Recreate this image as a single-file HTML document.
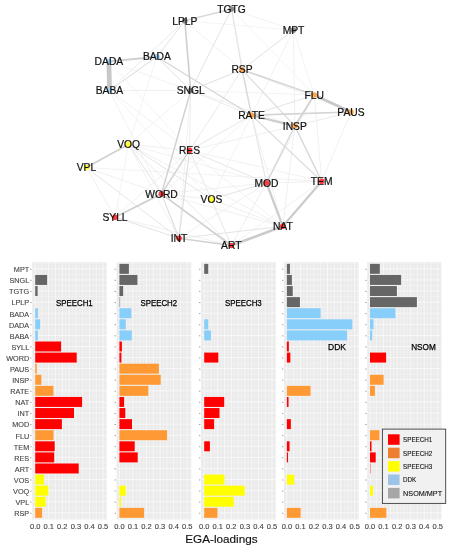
<!DOCTYPE html>
<html lang="en"><head><meta charset="utf-8"><title>EGA network and loadings</title>
<style>html,body{margin:0;padding:0;background:#fff}svg{display:block}</style></head>
<body>
<svg width="451" height="550" viewBox="0 0 451 550" font-family="Liberation Sans, Arial, Helvetica, sans-serif">
<rect width="451" height="550" fill="#ffffff"/>
<g stroke-linecap="round" fill="none">
<line x1="189.5" y1="150.4" x2="282.8" y2="226.3" stroke="#eeeeee" stroke-width="0.8"/>
<line x1="189.5" y1="150.4" x2="231.3" y2="245.5" stroke="#ececec" stroke-width="0.8"/>
<line x1="179" y1="238.3" x2="266.5" y2="183" stroke="#ececec" stroke-width="0.8"/>
<line x1="161.5" y1="193.9" x2="282.8" y2="226.3" stroke="#ececec" stroke-width="0.8"/>
<line x1="321.7" y1="181.3" x2="231.3" y2="245.5" stroke="#eeeeee" stroke-width="0.8"/>
<line x1="242" y1="69.7" x2="161.5" y2="193.9" stroke="#efefef" stroke-width="0.8"/>
<line x1="242" y1="69.7" x2="266.5" y2="183" stroke="#efefef" stroke-width="0.8"/>
<line x1="251.5" y1="115.2" x2="211.4" y2="199.2" stroke="#f0f0f0" stroke-width="0.8"/>
<line x1="251.5" y1="115.2" x2="161.5" y2="193.9" stroke="#eeeeee" stroke-width="0.8"/>
<line x1="251.5" y1="115.2" x2="282.8" y2="226.3" stroke="#eeeeee" stroke-width="0.8"/>
<line x1="314.3" y1="95" x2="266.5" y2="183" stroke="#eeeeee" stroke-width="0.8"/>
<line x1="314.3" y1="95" x2="321.7" y2="181.3" stroke="#ececec" stroke-width="0.8"/>
<line x1="351" y1="112" x2="321.7" y2="181.3" stroke="#eeeeee" stroke-width="0.8"/>
<line x1="294.8" y1="126" x2="351" y2="112" stroke="#e8e8e8" stroke-width="0.9"/>
<line x1="294.8" y1="126" x2="282.8" y2="226.3" stroke="#ececec" stroke-width="0.8"/>
<line x1="190.7" y1="90.5" x2="179" y2="238.3" stroke="#eeeeee" stroke-width="0.8"/>
<line x1="190.7" y1="90.5" x2="314.3" y2="95" stroke="#f0f0f0" stroke-width="0.8"/>
<line x1="190.7" y1="90.5" x2="294.8" y2="126" stroke="#eeeeee" stroke-width="0.8"/>
<line x1="293.5" y1="30.1" x2="251.5" y2="115.2" stroke="#eeeeee" stroke-width="0.8"/>
<line x1="293.5" y1="30.1" x2="314.3" y2="95" stroke="#f0f0f0" stroke-width="0.8"/>
<line x1="231.6" y1="9" x2="314.3" y2="95" stroke="#f1f1f1" stroke-width="0.8"/>
<line x1="231.6" y1="9" x2="251.5" y2="115.2" stroke="#eeeeee" stroke-width="0.8"/>
<line x1="184.8" y1="20.8" x2="293.5" y2="30.1" stroke="#f1f1f1" stroke-width="0.8"/>
<line x1="184.8" y1="20.8" x2="242" y2="69.7" stroke="#eeeeee" stroke-width="0.8"/>
<line x1="189.5" y1="150.4" x2="321.7" y2="181.3" stroke="#efefef" stroke-width="0.8"/>
<line x1="156.9" y1="56.7" x2="128.6" y2="144.2" stroke="#f0f0f0" stroke-width="0.8"/>
<line x1="108.9" y1="61.5" x2="189.5" y2="150.4" stroke="#f1f1f1" stroke-width="0.8"/>
<line x1="109.5" y1="90.5" x2="211.4" y2="199.2" stroke="#f1f1f1" stroke-width="0.8"/>
<line x1="109.5" y1="90.5" x2="189.5" y2="150.4" stroke="#efefef" stroke-width="0.8"/>
<line x1="184.8" y1="20.8" x2="109.5" y2="90.5" stroke="#e9e9e9" stroke-width="0.9"/>
<line x1="115" y1="217.2" x2="128.6" y2="144.2" stroke="#f0f0f0" stroke-width="0.8"/>
<line x1="115" y1="217.2" x2="189.5" y2="150.4" stroke="#ececec" stroke-width="0.8"/>
<line x1="128.6" y1="144.2" x2="266.5" y2="183" stroke="#efefef" stroke-width="0.8"/>
<line x1="128.6" y1="144.2" x2="282.8" y2="226.3" stroke="#eeeeee" stroke-width="0.8"/>
<line x1="128.6" y1="144.2" x2="179" y2="238.3" stroke="#eeeeee" stroke-width="0.8"/>
<line x1="128.6" y1="144.2" x2="231.3" y2="245.5" stroke="#e9e9e9" stroke-width="0.9"/>
<line x1="86.4" y1="167.5" x2="321.7" y2="181.3" stroke="#efefef" stroke-width="0.8"/>
<line x1="86.4" y1="167.5" x2="179" y2="238.3" stroke="#e6e6e6" stroke-width="1.0"/>
<line x1="211.4" y1="199.2" x2="161.5" y2="193.9" stroke="#ececec" stroke-width="0.8"/>
<line x1="211.4" y1="199.2" x2="282.8" y2="226.3" stroke="#ececec" stroke-width="0.8"/>
<line x1="211.4" y1="199.2" x2="189.5" y2="150.4" stroke="#ececec" stroke-width="0.8"/>
<line x1="128.6" y1="144.2" x2="190.7" y2="90.5" stroke="#efefef" stroke-width="0.8"/>
<line x1="242" y1="69.7" x2="351" y2="112" stroke="#ececec" stroke-width="0.8"/>
<line x1="231.6" y1="9" x2="293.5" y2="30.1" stroke="#efefef" stroke-width="0.8"/>
<line x1="108.9" y1="61.5" x2="190.7" y2="90.5" stroke="#efefef" stroke-width="0.8"/>
<line x1="109.5" y1="90.5" x2="161.5" y2="193.9" stroke="#efefef" stroke-width="0.8"/>
<line x1="242" y1="69.7" x2="189.5" y2="150.4" stroke="#ececec" stroke-width="0.8"/>
<line x1="115" y1="217.2" x2="231.3" y2="245.5" stroke="#ececec" stroke-width="0.8"/>
<line x1="266.5" y1="183" x2="231.3" y2="245.5" stroke="#e8e8e8" stroke-width="0.8"/>
<line x1="266.5" y1="183" x2="321.7" y2="181.3" stroke="#ececec" stroke-width="0.8"/>
<line x1="190.7" y1="90.5" x2="189.5" y2="150.4" stroke="#e8e8e8" stroke-width="0.8"/>
<line x1="190.7" y1="90.5" x2="251.5" y2="115.2" stroke="#e8e8e8" stroke-width="0.8"/>
<line x1="189.5" y1="150.4" x2="294.8" y2="126" stroke="#ececec" stroke-width="0.8"/>
<line x1="161.5" y1="193.9" x2="266.5" y2="183" stroke="#ececec" stroke-width="0.8"/>
<line x1="179" y1="238.3" x2="282.8" y2="226.3" stroke="#e4e4e4" stroke-width="1.0"/>
<line x1="189.5" y1="150.4" x2="266.5" y2="183" stroke="#e6e6e6" stroke-width="1.0"/>
<line x1="211.4" y1="199.2" x2="231.3" y2="245.5" stroke="#e8e8e8" stroke-width="0.8"/>
<line x1="211.4" y1="199.2" x2="266.5" y2="183" stroke="#e4e4e4" stroke-width="1.0"/>
<line x1="86.4" y1="167.5" x2="161.5" y2="193.9" stroke="#ececec" stroke-width="0.8"/>
<line x1="86.4" y1="167.5" x2="115" y2="217.2" stroke="#ececec" stroke-width="0.8"/>
<line x1="128.6" y1="144.2" x2="211.4" y2="199.2" stroke="#e6e6e6" stroke-width="1.0"/>
<line x1="128.6" y1="144.2" x2="189.5" y2="150.4" stroke="#ececec" stroke-width="0.8"/>
<line x1="128.6" y1="144.2" x2="161.5" y2="193.9" stroke="#e4e4e4" stroke-width="1.0"/>
<line x1="156.9" y1="56.7" x2="190.7" y2="90.5" stroke="#e2e2e2" stroke-width="1.0"/>
<line x1="156.9" y1="56.7" x2="184.8" y2="20.8" stroke="#e4e4e4" stroke-width="1.0"/>
<line x1="109.5" y1="90.5" x2="190.7" y2="90.5" stroke="#ececec" stroke-width="0.8"/>
<line x1="293.5" y1="30.1" x2="294.8" y2="126" stroke="#ececec" stroke-width="0.8"/>
<line x1="293.5" y1="30.1" x2="242" y2="69.7" stroke="#e2e2e2" stroke-width="1.0"/>
<line x1="190.7" y1="90.5" x2="242" y2="69.7" stroke="#e2e2e2" stroke-width="1.0"/>
<line x1="231.6" y1="9" x2="190.7" y2="90.5" stroke="#e4e4e4" stroke-width="1.0"/>
<line x1="231.6" y1="9" x2="242" y2="69.7" stroke="#e2e2e2" stroke-width="1.0"/>
<line x1="115" y1="217.2" x2="179" y2="238.3" stroke="#e4e4e4" stroke-width="1.0"/>
<line x1="161.5" y1="193.9" x2="179" y2="238.3" stroke="#dedede" stroke-width="1.2"/>
<line x1="189.5" y1="150.4" x2="179" y2="238.3" stroke="#e0e0e0" stroke-width="1.2"/>
<line x1="189.5" y1="150.4" x2="251.5" y2="115.2" stroke="#e6e6e6" stroke-width="1.0"/>
<line x1="251.5" y1="115.2" x2="266.5" y2="183" stroke="#e6e6e6" stroke-width="1.0"/>
<line x1="251.5" y1="115.2" x2="314.3" y2="95" stroke="#e4e4e4" stroke-width="1.0"/>
<line x1="251.5" y1="115.2" x2="321.7" y2="181.3" stroke="#dedede" stroke-width="1.2"/>
<line x1="242" y1="69.7" x2="294.8" y2="126" stroke="#dedede" stroke-width="1.2"/>
<line x1="190.7" y1="90.5" x2="161.5" y2="193.9" stroke="#d2d2d2" stroke-width="1.5"/>
<line x1="156.9" y1="56.7" x2="251.5" y2="115.2" stroke="#d6d6d6" stroke-width="1.3"/>
<line x1="128.6" y1="144.2" x2="86.4" y2="167.5" stroke="#d0d0d0" stroke-width="1.6"/>
<line x1="161.5" y1="193.9" x2="189.5" y2="150.4" stroke="#d4d4d4" stroke-width="1.5"/>
<line x1="161.5" y1="193.9" x2="115" y2="217.2" stroke="#d0d0d0" stroke-width="1.8"/>
<line x1="161.5" y1="193.9" x2="231.3" y2="245.5" stroke="#d0d0d0" stroke-width="1.6"/>
<line x1="231.3" y1="245.5" x2="179" y2="238.3" stroke="#d2d2d2" stroke-width="1.6"/>
<line x1="282.8" y1="226.3" x2="231.3" y2="245.5" stroke="#cacaca" stroke-width="2.6"/>
<line x1="266.5" y1="183" x2="282.8" y2="226.3" stroke="#cccccc" stroke-width="2.2"/>
<line x1="282.8" y1="226.3" x2="321.7" y2="181.3" stroke="#cccccc" stroke-width="2.2"/>
<line x1="294.8" y1="126" x2="321.7" y2="181.3" stroke="#d7d7d7" stroke-width="1.4"/>
<line x1="294.8" y1="126" x2="266.5" y2="183" stroke="#d7d7d7" stroke-width="1.4"/>
<line x1="314.3" y1="95" x2="294.8" y2="126" stroke="#d0d0d0" stroke-width="1.6"/>
<line x1="242" y1="69.7" x2="251.5" y2="115.2" stroke="#dadada" stroke-width="1.4"/>
<line x1="251.5" y1="115.2" x2="351" y2="112" stroke="#d4d4d4" stroke-width="1.6"/>
<line x1="251.5" y1="115.2" x2="294.8" y2="126" stroke="#cccccc" stroke-width="2.2"/>
<line x1="242" y1="69.7" x2="314.3" y2="95" stroke="#d6d6d6" stroke-width="1.5"/>
<line x1="314.3" y1="95" x2="351" y2="112" stroke="#c8c8c8" stroke-width="2.6"/>
<line x1="184.8" y1="20.8" x2="231.6" y2="9" stroke="#d9d9d9" stroke-width="1.6"/>
<line x1="184.8" y1="20.8" x2="190.7" y2="90.5" stroke="#cfcfcf" stroke-width="1.6"/>
<line x1="109.5" y1="90.5" x2="156.9" y2="56.7" stroke="#dcdcdc" stroke-width="1.0"/>
<line x1="108.9" y1="61.5" x2="156.9" y2="56.7" stroke="#d0d0d0" stroke-width="2.0"/>
<line x1="108.9" y1="61.5" x2="109.5" y2="90.5" stroke="#c8c8c8" stroke-width="4.8"/>
</g>
<g>
<circle cx="231.6" cy="9" r="2.8" fill="#8a8a8a"/>
<circle cx="184.8" cy="20.8" r="2.8" fill="#8a8a8a"/>
<circle cx="293.5" cy="30.1" r="2.8" fill="#8a8a8a"/>
<circle cx="156.9" cy="56.7" r="2.8" fill="#9fd4f7"/>
<circle cx="108.9" cy="61.5" r="2.8" fill="#9fd4f7"/>
<circle cx="242" cy="69.7" r="2.8" fill="#ffa64d"/>
<circle cx="109.5" cy="90.5" r="2.8" fill="#9fd4f7"/>
<circle cx="190.7" cy="90.5" r="2.8" fill="#8a8a8a"/>
<circle cx="314.3" cy="95" r="2.8" fill="#ffa64d"/>
<circle cx="351" cy="112" r="2.8" fill="#ffa64d"/>
<circle cx="251.5" cy="115.2" r="2.8" fill="#ffa64d"/>
<circle cx="294.8" cy="126" r="2.8" fill="#ffa64d"/>
<circle cx="128.6" cy="144.2" r="2.8" fill="#ffff33"/>
<circle cx="189.5" cy="150.4" r="2.8" fill="#ff3b3b"/>
<circle cx="86.4" cy="167.5" r="2.8" fill="#ffff33"/>
<circle cx="321.7" cy="181.3" r="2.8" fill="#ff3b3b"/>
<circle cx="266.5" cy="183" r="2.8" fill="#ff3b3b"/>
<circle cx="161.5" cy="193.9" r="2.8" fill="#ff3b3b"/>
<circle cx="211.4" cy="199.2" r="2.8" fill="#ffff33"/>
<circle cx="115" cy="217.2" r="2.8" fill="#ff3b3b"/>
<circle cx="282.8" cy="226.3" r="2.8" fill="#ff3b3b"/>
<circle cx="179" cy="238.3" r="2.8" fill="#ff3b3b"/>
<circle cx="231.3" cy="245.5" r="2.8" fill="#ff3b3b"/>
</g>
<g font-size="10.3" fill="#111111" stroke="#111111" stroke-width="0.2" text-anchor="middle">
<text x="231.6" y="12.7">TGTG</text>
<text x="184.8" y="24.5">LPLP</text>
<text x="293.5" y="33.8">MPT</text>
<text x="156.9" y="60.4">BADA</text>
<text x="108.9" y="65.2">DADA</text>
<text x="242" y="73.4">RSP</text>
<text x="109.5" y="94.2">BABA</text>
<text x="190.7" y="94.2">SNGL</text>
<text x="314.3" y="98.7">FLU</text>
<text x="351" y="115.7">PAUS</text>
<text x="251.5" y="118.9">RATE</text>
<text x="294.8" y="129.7">INSP</text>
<text x="128.6" y="147.9">VOQ</text>
<text x="189.5" y="154.1">RES</text>
<text x="86.4" y="171.2">VPL</text>
<text x="321.7" y="185.0">TEM</text>
<text x="266.5" y="186.7">MOD</text>
<text x="161.5" y="197.6">WORD</text>
<text x="211.4" y="202.9">VOS</text>
<text x="115" y="220.9">SYLL</text>
<text x="282.8" y="230.0">NAT</text>
<text x="179" y="242.0">INT</text>
<text x="231.3" y="249.2">ART</text>
</g>
<rect x="32.2" y="262.2" width="74.45" height="257.30" fill="#ebebeb"/>
<g stroke="#ffffff" fill="none">
<line x1="35.20" y1="262.2" x2="35.20" y2="519.5" stroke-width="0.6"/>
<line x1="38.59" y1="262.2" x2="38.59" y2="519.5" stroke-width="0.25"/>
<line x1="41.98" y1="262.2" x2="41.98" y2="519.5" stroke-width="0.5"/>
<line x1="45.37" y1="262.2" x2="45.37" y2="519.5" stroke-width="0.25"/>
<line x1="48.76" y1="262.2" x2="48.76" y2="519.5" stroke-width="0.6"/>
<line x1="52.15" y1="262.2" x2="52.15" y2="519.5" stroke-width="0.25"/>
<line x1="55.54" y1="262.2" x2="55.54" y2="519.5" stroke-width="0.5"/>
<line x1="58.93" y1="262.2" x2="58.93" y2="519.5" stroke-width="0.25"/>
<line x1="62.32" y1="262.2" x2="62.32" y2="519.5" stroke-width="0.6"/>
<line x1="65.71" y1="262.2" x2="65.71" y2="519.5" stroke-width="0.25"/>
<line x1="69.10" y1="262.2" x2="69.10" y2="519.5" stroke-width="0.5"/>
<line x1="72.49" y1="262.2" x2="72.49" y2="519.5" stroke-width="0.25"/>
<line x1="75.88" y1="262.2" x2="75.88" y2="519.5" stroke-width="0.6"/>
<line x1="79.27" y1="262.2" x2="79.27" y2="519.5" stroke-width="0.25"/>
<line x1="82.66" y1="262.2" x2="82.66" y2="519.5" stroke-width="0.5"/>
<line x1="86.05" y1="262.2" x2="86.05" y2="519.5" stroke-width="0.25"/>
<line x1="89.44" y1="262.2" x2="89.44" y2="519.5" stroke-width="0.6"/>
<line x1="92.83" y1="262.2" x2="92.83" y2="519.5" stroke-width="0.25"/>
<line x1="96.22" y1="262.2" x2="96.22" y2="519.5" stroke-width="0.5"/>
<line x1="99.61" y1="262.2" x2="99.61" y2="519.5" stroke-width="0.25"/>
<line x1="103.00" y1="262.2" x2="103.00" y2="519.5" stroke-width="0.6"/>
<line x1="32.2" y1="263.31" x2="106.65" y2="263.31" stroke-width="0.25"/>
<line x1="32.2" y1="268.85" x2="106.65" y2="268.85" stroke-width="0.6"/>
<line x1="32.2" y1="274.40" x2="106.65" y2="274.40" stroke-width="0.25"/>
<line x1="32.2" y1="279.94" x2="106.65" y2="279.94" stroke-width="0.6"/>
<line x1="32.2" y1="285.49" x2="106.65" y2="285.49" stroke-width="0.25"/>
<line x1="32.2" y1="291.04" x2="106.65" y2="291.04" stroke-width="0.6"/>
<line x1="32.2" y1="296.58" x2="106.65" y2="296.58" stroke-width="0.25"/>
<line x1="32.2" y1="302.13" x2="106.65" y2="302.13" stroke-width="0.6"/>
<line x1="32.2" y1="307.67" x2="106.65" y2="307.67" stroke-width="0.25"/>
<line x1="32.2" y1="313.22" x2="106.65" y2="313.22" stroke-width="0.6"/>
<line x1="32.2" y1="318.76" x2="106.65" y2="318.76" stroke-width="0.25"/>
<line x1="32.2" y1="324.31" x2="106.65" y2="324.31" stroke-width="0.6"/>
<line x1="32.2" y1="329.85" x2="106.65" y2="329.85" stroke-width="0.25"/>
<line x1="32.2" y1="335.40" x2="106.65" y2="335.40" stroke-width="0.6"/>
<line x1="32.2" y1="340.94" x2="106.65" y2="340.94" stroke-width="0.25"/>
<line x1="32.2" y1="346.49" x2="106.65" y2="346.49" stroke-width="0.6"/>
<line x1="32.2" y1="352.03" x2="106.65" y2="352.03" stroke-width="0.25"/>
<line x1="32.2" y1="357.58" x2="106.65" y2="357.58" stroke-width="0.6"/>
<line x1="32.2" y1="363.12" x2="106.65" y2="363.12" stroke-width="0.25"/>
<line x1="32.2" y1="368.67" x2="106.65" y2="368.67" stroke-width="0.6"/>
<line x1="32.2" y1="374.21" x2="106.65" y2="374.21" stroke-width="0.25"/>
<line x1="32.2" y1="379.76" x2="106.65" y2="379.76" stroke-width="0.6"/>
<line x1="32.2" y1="385.30" x2="106.65" y2="385.30" stroke-width="0.25"/>
<line x1="32.2" y1="390.85" x2="106.65" y2="390.85" stroke-width="0.6"/>
<line x1="32.2" y1="396.40" x2="106.65" y2="396.40" stroke-width="0.25"/>
<line x1="32.2" y1="401.94" x2="106.65" y2="401.94" stroke-width="0.6"/>
<line x1="32.2" y1="407.49" x2="106.65" y2="407.49" stroke-width="0.25"/>
<line x1="32.2" y1="413.03" x2="106.65" y2="413.03" stroke-width="0.6"/>
<line x1="32.2" y1="418.58" x2="106.65" y2="418.58" stroke-width="0.25"/>
<line x1="32.2" y1="424.12" x2="106.65" y2="424.12" stroke-width="0.6"/>
<line x1="32.2" y1="429.67" x2="106.65" y2="429.67" stroke-width="0.25"/>
<line x1="32.2" y1="435.21" x2="106.65" y2="435.21" stroke-width="0.6"/>
<line x1="32.2" y1="440.76" x2="106.65" y2="440.76" stroke-width="0.25"/>
<line x1="32.2" y1="446.30" x2="106.65" y2="446.30" stroke-width="0.6"/>
<line x1="32.2" y1="451.85" x2="106.65" y2="451.85" stroke-width="0.25"/>
<line x1="32.2" y1="457.39" x2="106.65" y2="457.39" stroke-width="0.6"/>
<line x1="32.2" y1="462.94" x2="106.65" y2="462.94" stroke-width="0.25"/>
<line x1="32.2" y1="468.48" x2="106.65" y2="468.48" stroke-width="0.6"/>
<line x1="32.2" y1="474.03" x2="106.65" y2="474.03" stroke-width="0.25"/>
<line x1="32.2" y1="479.57" x2="106.65" y2="479.57" stroke-width="0.6"/>
<line x1="32.2" y1="485.12" x2="106.65" y2="485.12" stroke-width="0.25"/>
<line x1="32.2" y1="490.66" x2="106.65" y2="490.66" stroke-width="0.6"/>
<line x1="32.2" y1="496.21" x2="106.65" y2="496.21" stroke-width="0.25"/>
<line x1="32.2" y1="501.76" x2="106.65" y2="501.76" stroke-width="0.6"/>
<line x1="32.2" y1="507.30" x2="106.65" y2="507.30" stroke-width="0.25"/>
<line x1="32.2" y1="512.85" x2="106.65" y2="512.85" stroke-width="0.6"/>
<line x1="32.2" y1="518.39" x2="106.65" y2="518.39" stroke-width="0.25"/>
</g>
<rect x="35.20" y="274.95" width="11.9" height="9.98" fill="#666666"/>
<rect x="35.20" y="286.04" width="2.4" height="9.98" fill="#666666"/>
<rect x="35.20" y="308.23" width="2.7" height="9.98" fill="#87cefa"/>
<rect x="35.20" y="319.32" width="4.9" height="9.98" fill="#87cefa"/>
<rect x="35.20" y="330.41" width="2.7" height="9.98" fill="#87cefa"/>
<rect x="35.20" y="341.50" width="25.9" height="9.98" fill="#ff0000"/>
<rect x="35.20" y="352.59" width="41.5" height="9.98" fill="#ff0000"/>
<rect x="35.20" y="363.68" width="1.5" height="9.98" fill="#ff9933"/>
<rect x="35.20" y="374.77" width="6.2" height="9.98" fill="#ff9933"/>
<rect x="35.20" y="385.86" width="18.2" height="9.98" fill="#ff9933"/>
<rect x="35.20" y="396.95" width="46.9" height="9.98" fill="#ff0000"/>
<rect x="35.20" y="408.04" width="38.8" height="9.98" fill="#ff0000"/>
<rect x="35.20" y="419.13" width="26.7" height="9.98" fill="#ff0000"/>
<rect x="35.20" y="430.22" width="18.3" height="9.98" fill="#ff9933"/>
<rect x="35.20" y="441.31" width="19.5" height="9.98" fill="#ff0000"/>
<rect x="35.20" y="452.40" width="19.0" height="9.98" fill="#ff0000"/>
<rect x="35.20" y="463.49" width="43.5" height="9.98" fill="#ff0000"/>
<rect x="35.20" y="474.58" width="8.9" height="9.98" fill="#ffff00"/>
<rect x="35.20" y="485.67" width="13.1" height="9.98" fill="#ffff00"/>
<rect x="35.20" y="496.76" width="10.4" height="9.98" fill="#ffff00"/>
<rect x="35.20" y="507.85" width="6.9" height="9.98" fill="#ff9933"/>
<g stroke="#7a7a7a" stroke-width="0.7">
<line x1="30.20" y1="269.25" x2="31.60" y2="269.25"/>
<line x1="30.20" y1="280.34" x2="31.60" y2="280.34"/>
<line x1="30.20" y1="291.44" x2="31.60" y2="291.44"/>
<line x1="30.20" y1="302.53" x2="31.60" y2="302.53"/>
<line x1="30.20" y1="313.62" x2="31.60" y2="313.62"/>
<line x1="30.20" y1="324.71" x2="31.60" y2="324.71"/>
<line x1="30.20" y1="335.80" x2="31.60" y2="335.80"/>
<line x1="30.20" y1="346.89" x2="31.60" y2="346.89"/>
<line x1="30.20" y1="357.98" x2="31.60" y2="357.98"/>
<line x1="30.20" y1="369.07" x2="31.60" y2="369.07"/>
<line x1="30.20" y1="380.16" x2="31.60" y2="380.16"/>
<line x1="30.20" y1="391.25" x2="31.60" y2="391.25"/>
<line x1="30.20" y1="402.34" x2="31.60" y2="402.34"/>
<line x1="30.20" y1="413.43" x2="31.60" y2="413.43"/>
<line x1="30.20" y1="424.52" x2="31.60" y2="424.52"/>
<line x1="30.20" y1="435.61" x2="31.60" y2="435.61"/>
<line x1="30.20" y1="446.70" x2="31.60" y2="446.70"/>
<line x1="30.20" y1="457.79" x2="31.60" y2="457.79"/>
<line x1="30.20" y1="468.88" x2="31.60" y2="468.88"/>
<line x1="30.20" y1="479.97" x2="31.60" y2="479.97"/>
<line x1="30.20" y1="491.06" x2="31.60" y2="491.06"/>
<line x1="30.20" y1="502.16" x2="31.60" y2="502.16"/>
<line x1="30.20" y1="513.25" x2="31.60" y2="513.25"/>
</g>
<g font-size="7.5" fill="#444444" stroke="#444444" stroke-width="0.12" text-anchor="middle">
<text x="35.20" y="528.9">0.0</text>
<text x="48.76" y="528.9">0.1</text>
<text x="62.32" y="528.9">0.2</text>
<text x="75.88" y="528.9">0.3</text>
<text x="89.44" y="528.9">0.4</text>
<text x="103.00" y="528.9">0.5</text>
</g>
<rect x="116.6" y="262.2" width="74.70" height="257.30" fill="#ebebeb"/>
<g stroke="#ffffff" fill="none">
<line x1="119.40" y1="262.2" x2="119.40" y2="519.5" stroke-width="0.6"/>
<line x1="122.79" y1="262.2" x2="122.79" y2="519.5" stroke-width="0.25"/>
<line x1="126.18" y1="262.2" x2="126.18" y2="519.5" stroke-width="0.5"/>
<line x1="129.57" y1="262.2" x2="129.57" y2="519.5" stroke-width="0.25"/>
<line x1="132.96" y1="262.2" x2="132.96" y2="519.5" stroke-width="0.6"/>
<line x1="136.35" y1="262.2" x2="136.35" y2="519.5" stroke-width="0.25"/>
<line x1="139.74" y1="262.2" x2="139.74" y2="519.5" stroke-width="0.5"/>
<line x1="143.13" y1="262.2" x2="143.13" y2="519.5" stroke-width="0.25"/>
<line x1="146.52" y1="262.2" x2="146.52" y2="519.5" stroke-width="0.6"/>
<line x1="149.91" y1="262.2" x2="149.91" y2="519.5" stroke-width="0.25"/>
<line x1="153.30" y1="262.2" x2="153.30" y2="519.5" stroke-width="0.5"/>
<line x1="156.69" y1="262.2" x2="156.69" y2="519.5" stroke-width="0.25"/>
<line x1="160.08" y1="262.2" x2="160.08" y2="519.5" stroke-width="0.6"/>
<line x1="163.47" y1="262.2" x2="163.47" y2="519.5" stroke-width="0.25"/>
<line x1="166.86" y1="262.2" x2="166.86" y2="519.5" stroke-width="0.5"/>
<line x1="170.25" y1="262.2" x2="170.25" y2="519.5" stroke-width="0.25"/>
<line x1="173.64" y1="262.2" x2="173.64" y2="519.5" stroke-width="0.6"/>
<line x1="177.03" y1="262.2" x2="177.03" y2="519.5" stroke-width="0.25"/>
<line x1="180.42" y1="262.2" x2="180.42" y2="519.5" stroke-width="0.5"/>
<line x1="183.81" y1="262.2" x2="183.81" y2="519.5" stroke-width="0.25"/>
<line x1="187.20" y1="262.2" x2="187.20" y2="519.5" stroke-width="0.6"/>
<line x1="190.59" y1="262.2" x2="190.59" y2="519.5" stroke-width="0.25"/>
<line x1="116.6" y1="263.31" x2="191.3" y2="263.31" stroke-width="0.25"/>
<line x1="116.6" y1="268.85" x2="191.3" y2="268.85" stroke-width="0.6"/>
<line x1="116.6" y1="274.40" x2="191.3" y2="274.40" stroke-width="0.25"/>
<line x1="116.6" y1="279.94" x2="191.3" y2="279.94" stroke-width="0.6"/>
<line x1="116.6" y1="285.49" x2="191.3" y2="285.49" stroke-width="0.25"/>
<line x1="116.6" y1="291.04" x2="191.3" y2="291.04" stroke-width="0.6"/>
<line x1="116.6" y1="296.58" x2="191.3" y2="296.58" stroke-width="0.25"/>
<line x1="116.6" y1="302.13" x2="191.3" y2="302.13" stroke-width="0.6"/>
<line x1="116.6" y1="307.67" x2="191.3" y2="307.67" stroke-width="0.25"/>
<line x1="116.6" y1="313.22" x2="191.3" y2="313.22" stroke-width="0.6"/>
<line x1="116.6" y1="318.76" x2="191.3" y2="318.76" stroke-width="0.25"/>
<line x1="116.6" y1="324.31" x2="191.3" y2="324.31" stroke-width="0.6"/>
<line x1="116.6" y1="329.85" x2="191.3" y2="329.85" stroke-width="0.25"/>
<line x1="116.6" y1="335.40" x2="191.3" y2="335.40" stroke-width="0.6"/>
<line x1="116.6" y1="340.94" x2="191.3" y2="340.94" stroke-width="0.25"/>
<line x1="116.6" y1="346.49" x2="191.3" y2="346.49" stroke-width="0.6"/>
<line x1="116.6" y1="352.03" x2="191.3" y2="352.03" stroke-width="0.25"/>
<line x1="116.6" y1="357.58" x2="191.3" y2="357.58" stroke-width="0.6"/>
<line x1="116.6" y1="363.12" x2="191.3" y2="363.12" stroke-width="0.25"/>
<line x1="116.6" y1="368.67" x2="191.3" y2="368.67" stroke-width="0.6"/>
<line x1="116.6" y1="374.21" x2="191.3" y2="374.21" stroke-width="0.25"/>
<line x1="116.6" y1="379.76" x2="191.3" y2="379.76" stroke-width="0.6"/>
<line x1="116.6" y1="385.30" x2="191.3" y2="385.30" stroke-width="0.25"/>
<line x1="116.6" y1="390.85" x2="191.3" y2="390.85" stroke-width="0.6"/>
<line x1="116.6" y1="396.40" x2="191.3" y2="396.40" stroke-width="0.25"/>
<line x1="116.6" y1="401.94" x2="191.3" y2="401.94" stroke-width="0.6"/>
<line x1="116.6" y1="407.49" x2="191.3" y2="407.49" stroke-width="0.25"/>
<line x1="116.6" y1="413.03" x2="191.3" y2="413.03" stroke-width="0.6"/>
<line x1="116.6" y1="418.58" x2="191.3" y2="418.58" stroke-width="0.25"/>
<line x1="116.6" y1="424.12" x2="191.3" y2="424.12" stroke-width="0.6"/>
<line x1="116.6" y1="429.67" x2="191.3" y2="429.67" stroke-width="0.25"/>
<line x1="116.6" y1="435.21" x2="191.3" y2="435.21" stroke-width="0.6"/>
<line x1="116.6" y1="440.76" x2="191.3" y2="440.76" stroke-width="0.25"/>
<line x1="116.6" y1="446.30" x2="191.3" y2="446.30" stroke-width="0.6"/>
<line x1="116.6" y1="451.85" x2="191.3" y2="451.85" stroke-width="0.25"/>
<line x1="116.6" y1="457.39" x2="191.3" y2="457.39" stroke-width="0.6"/>
<line x1="116.6" y1="462.94" x2="191.3" y2="462.94" stroke-width="0.25"/>
<line x1="116.6" y1="468.48" x2="191.3" y2="468.48" stroke-width="0.6"/>
<line x1="116.6" y1="474.03" x2="191.3" y2="474.03" stroke-width="0.25"/>
<line x1="116.6" y1="479.57" x2="191.3" y2="479.57" stroke-width="0.6"/>
<line x1="116.6" y1="485.12" x2="191.3" y2="485.12" stroke-width="0.25"/>
<line x1="116.6" y1="490.66" x2="191.3" y2="490.66" stroke-width="0.6"/>
<line x1="116.6" y1="496.21" x2="191.3" y2="496.21" stroke-width="0.25"/>
<line x1="116.6" y1="501.76" x2="191.3" y2="501.76" stroke-width="0.6"/>
<line x1="116.6" y1="507.30" x2="191.3" y2="507.30" stroke-width="0.25"/>
<line x1="116.6" y1="512.85" x2="191.3" y2="512.85" stroke-width="0.6"/>
<line x1="116.6" y1="518.39" x2="191.3" y2="518.39" stroke-width="0.25"/>
</g>
<rect x="119.40" y="263.86" width="9.5" height="9.98" fill="#666666"/>
<rect x="119.40" y="274.95" width="18" height="9.98" fill="#666666"/>
<rect x="119.40" y="286.04" width="3.7" height="9.98" fill="#666666"/>
<rect x="119.40" y="297.14" width="0.7" height="9.98" fill="#666666" opacity="0.7"/>
<rect x="119.40" y="308.23" width="11.9" height="9.98" fill="#87cefa"/>
<rect x="119.40" y="319.32" width="6.4" height="9.98" fill="#87cefa"/>
<rect x="119.40" y="330.41" width="12.4" height="9.98" fill="#87cefa"/>
<rect x="119.40" y="341.50" width="2.5" height="9.98" fill="#ff0000"/>
<rect x="119.40" y="352.59" width="2.0" height="9.98" fill="#ff0000"/>
<rect x="119.40" y="363.68" width="39.5" height="9.98" fill="#ff9933"/>
<rect x="119.40" y="374.77" width="41.3" height="9.98" fill="#ff9933"/>
<rect x="119.40" y="385.86" width="28.9" height="9.98" fill="#ff9933"/>
<rect x="119.40" y="396.95" width="4.7" height="9.98" fill="#ff0000"/>
<rect x="119.40" y="408.04" width="5.9" height="9.98" fill="#ff0000"/>
<rect x="119.40" y="419.13" width="12.6" height="9.98" fill="#ff0000"/>
<rect x="119.40" y="430.22" width="47.7" height="9.98" fill="#ff9933"/>
<rect x="119.40" y="441.31" width="15.3" height="9.98" fill="#ff0000"/>
<rect x="119.40" y="452.40" width="18.3" height="9.98" fill="#ff0000"/>
<rect x="119.40" y="485.67" width="6.4" height="9.98" fill="#ffff00"/>
<rect x="119.40" y="496.76" width="1.5" height="9.98" fill="#ffff00"/>
<rect x="119.40" y="507.85" width="24.7" height="9.98" fill="#ff9933"/>
<g stroke="#7a7a7a" stroke-width="0.7">
<line x1="114.60" y1="269.25" x2="116.00" y2="269.25"/>
<line x1="114.60" y1="280.34" x2="116.00" y2="280.34"/>
<line x1="114.60" y1="291.44" x2="116.00" y2="291.44"/>
<line x1="114.60" y1="302.53" x2="116.00" y2="302.53"/>
<line x1="114.60" y1="313.62" x2="116.00" y2="313.62"/>
<line x1="114.60" y1="324.71" x2="116.00" y2="324.71"/>
<line x1="114.60" y1="335.80" x2="116.00" y2="335.80"/>
<line x1="114.60" y1="346.89" x2="116.00" y2="346.89"/>
<line x1="114.60" y1="357.98" x2="116.00" y2="357.98"/>
<line x1="114.60" y1="369.07" x2="116.00" y2="369.07"/>
<line x1="114.60" y1="380.16" x2="116.00" y2="380.16"/>
<line x1="114.60" y1="391.25" x2="116.00" y2="391.25"/>
<line x1="114.60" y1="402.34" x2="116.00" y2="402.34"/>
<line x1="114.60" y1="413.43" x2="116.00" y2="413.43"/>
<line x1="114.60" y1="424.52" x2="116.00" y2="424.52"/>
<line x1="114.60" y1="435.61" x2="116.00" y2="435.61"/>
<line x1="114.60" y1="446.70" x2="116.00" y2="446.70"/>
<line x1="114.60" y1="457.79" x2="116.00" y2="457.79"/>
<line x1="114.60" y1="468.88" x2="116.00" y2="468.88"/>
<line x1="114.60" y1="479.97" x2="116.00" y2="479.97"/>
<line x1="114.60" y1="491.06" x2="116.00" y2="491.06"/>
<line x1="114.60" y1="502.16" x2="116.00" y2="502.16"/>
<line x1="114.60" y1="513.25" x2="116.00" y2="513.25"/>
</g>
<g font-size="7.5" fill="#444444" stroke="#444444" stroke-width="0.12" text-anchor="middle">
<text x="119.40" y="528.9">0.0</text>
<text x="132.96" y="528.9">0.1</text>
<text x="146.52" y="528.9">0.2</text>
<text x="160.08" y="528.9">0.3</text>
<text x="173.64" y="528.9">0.4</text>
<text x="187.20" y="528.9">0.5</text>
</g>
<rect x="201.0" y="262.2" width="74.85" height="257.30" fill="#ebebeb"/>
<g stroke="#ffffff" fill="none">
<line x1="204.20" y1="262.2" x2="204.20" y2="519.5" stroke-width="0.6"/>
<line x1="207.59" y1="262.2" x2="207.59" y2="519.5" stroke-width="0.25"/>
<line x1="210.98" y1="262.2" x2="210.98" y2="519.5" stroke-width="0.5"/>
<line x1="214.37" y1="262.2" x2="214.37" y2="519.5" stroke-width="0.25"/>
<line x1="217.76" y1="262.2" x2="217.76" y2="519.5" stroke-width="0.6"/>
<line x1="221.15" y1="262.2" x2="221.15" y2="519.5" stroke-width="0.25"/>
<line x1="224.54" y1="262.2" x2="224.54" y2="519.5" stroke-width="0.5"/>
<line x1="227.93" y1="262.2" x2="227.93" y2="519.5" stroke-width="0.25"/>
<line x1="231.32" y1="262.2" x2="231.32" y2="519.5" stroke-width="0.6"/>
<line x1="234.71" y1="262.2" x2="234.71" y2="519.5" stroke-width="0.25"/>
<line x1="238.10" y1="262.2" x2="238.10" y2="519.5" stroke-width="0.5"/>
<line x1="241.49" y1="262.2" x2="241.49" y2="519.5" stroke-width="0.25"/>
<line x1="244.88" y1="262.2" x2="244.88" y2="519.5" stroke-width="0.6"/>
<line x1="248.27" y1="262.2" x2="248.27" y2="519.5" stroke-width="0.25"/>
<line x1="251.66" y1="262.2" x2="251.66" y2="519.5" stroke-width="0.5"/>
<line x1="255.05" y1="262.2" x2="255.05" y2="519.5" stroke-width="0.25"/>
<line x1="258.44" y1="262.2" x2="258.44" y2="519.5" stroke-width="0.6"/>
<line x1="261.83" y1="262.2" x2="261.83" y2="519.5" stroke-width="0.25"/>
<line x1="265.22" y1="262.2" x2="265.22" y2="519.5" stroke-width="0.5"/>
<line x1="268.61" y1="262.2" x2="268.61" y2="519.5" stroke-width="0.25"/>
<line x1="272.00" y1="262.2" x2="272.00" y2="519.5" stroke-width="0.6"/>
<line x1="275.39" y1="262.2" x2="275.39" y2="519.5" stroke-width="0.25"/>
<line x1="201.0" y1="263.31" x2="275.85" y2="263.31" stroke-width="0.25"/>
<line x1="201.0" y1="268.85" x2="275.85" y2="268.85" stroke-width="0.6"/>
<line x1="201.0" y1="274.40" x2="275.85" y2="274.40" stroke-width="0.25"/>
<line x1="201.0" y1="279.94" x2="275.85" y2="279.94" stroke-width="0.6"/>
<line x1="201.0" y1="285.49" x2="275.85" y2="285.49" stroke-width="0.25"/>
<line x1="201.0" y1="291.04" x2="275.85" y2="291.04" stroke-width="0.6"/>
<line x1="201.0" y1="296.58" x2="275.85" y2="296.58" stroke-width="0.25"/>
<line x1="201.0" y1="302.13" x2="275.85" y2="302.13" stroke-width="0.6"/>
<line x1="201.0" y1="307.67" x2="275.85" y2="307.67" stroke-width="0.25"/>
<line x1="201.0" y1="313.22" x2="275.85" y2="313.22" stroke-width="0.6"/>
<line x1="201.0" y1="318.76" x2="275.85" y2="318.76" stroke-width="0.25"/>
<line x1="201.0" y1="324.31" x2="275.85" y2="324.31" stroke-width="0.6"/>
<line x1="201.0" y1="329.85" x2="275.85" y2="329.85" stroke-width="0.25"/>
<line x1="201.0" y1="335.40" x2="275.85" y2="335.40" stroke-width="0.6"/>
<line x1="201.0" y1="340.94" x2="275.85" y2="340.94" stroke-width="0.25"/>
<line x1="201.0" y1="346.49" x2="275.85" y2="346.49" stroke-width="0.6"/>
<line x1="201.0" y1="352.03" x2="275.85" y2="352.03" stroke-width="0.25"/>
<line x1="201.0" y1="357.58" x2="275.85" y2="357.58" stroke-width="0.6"/>
<line x1="201.0" y1="363.12" x2="275.85" y2="363.12" stroke-width="0.25"/>
<line x1="201.0" y1="368.67" x2="275.85" y2="368.67" stroke-width="0.6"/>
<line x1="201.0" y1="374.21" x2="275.85" y2="374.21" stroke-width="0.25"/>
<line x1="201.0" y1="379.76" x2="275.85" y2="379.76" stroke-width="0.6"/>
<line x1="201.0" y1="385.30" x2="275.85" y2="385.30" stroke-width="0.25"/>
<line x1="201.0" y1="390.85" x2="275.85" y2="390.85" stroke-width="0.6"/>
<line x1="201.0" y1="396.40" x2="275.85" y2="396.40" stroke-width="0.25"/>
<line x1="201.0" y1="401.94" x2="275.85" y2="401.94" stroke-width="0.6"/>
<line x1="201.0" y1="407.49" x2="275.85" y2="407.49" stroke-width="0.25"/>
<line x1="201.0" y1="413.03" x2="275.85" y2="413.03" stroke-width="0.6"/>
<line x1="201.0" y1="418.58" x2="275.85" y2="418.58" stroke-width="0.25"/>
<line x1="201.0" y1="424.12" x2="275.85" y2="424.12" stroke-width="0.6"/>
<line x1="201.0" y1="429.67" x2="275.85" y2="429.67" stroke-width="0.25"/>
<line x1="201.0" y1="435.21" x2="275.85" y2="435.21" stroke-width="0.6"/>
<line x1="201.0" y1="440.76" x2="275.85" y2="440.76" stroke-width="0.25"/>
<line x1="201.0" y1="446.30" x2="275.85" y2="446.30" stroke-width="0.6"/>
<line x1="201.0" y1="451.85" x2="275.85" y2="451.85" stroke-width="0.25"/>
<line x1="201.0" y1="457.39" x2="275.85" y2="457.39" stroke-width="0.6"/>
<line x1="201.0" y1="462.94" x2="275.85" y2="462.94" stroke-width="0.25"/>
<line x1="201.0" y1="468.48" x2="275.85" y2="468.48" stroke-width="0.6"/>
<line x1="201.0" y1="474.03" x2="275.85" y2="474.03" stroke-width="0.25"/>
<line x1="201.0" y1="479.57" x2="275.85" y2="479.57" stroke-width="0.6"/>
<line x1="201.0" y1="485.12" x2="275.85" y2="485.12" stroke-width="0.25"/>
<line x1="201.0" y1="490.66" x2="275.85" y2="490.66" stroke-width="0.6"/>
<line x1="201.0" y1="496.21" x2="275.85" y2="496.21" stroke-width="0.25"/>
<line x1="201.0" y1="501.76" x2="275.85" y2="501.76" stroke-width="0.6"/>
<line x1="201.0" y1="507.30" x2="275.85" y2="507.30" stroke-width="0.25"/>
<line x1="201.0" y1="512.85" x2="275.85" y2="512.85" stroke-width="0.6"/>
<line x1="201.0" y1="518.39" x2="275.85" y2="518.39" stroke-width="0.25"/>
</g>
<rect x="204.20" y="263.86" width="4.0" height="9.98" fill="#666666"/>
<rect x="204.20" y="319.32" width="4.0" height="9.98" fill="#87cefa"/>
<rect x="204.20" y="330.41" width="6.7" height="9.98" fill="#87cefa"/>
<rect x="204.20" y="352.59" width="14.1" height="9.98" fill="#ff0000"/>
<rect x="204.20" y="396.95" width="20" height="9.98" fill="#ff0000"/>
<rect x="204.20" y="408.04" width="15.3" height="9.98" fill="#ff0000"/>
<rect x="204.20" y="419.13" width="9.9" height="9.98" fill="#ff0000"/>
<rect x="204.20" y="441.31" width="5.7" height="9.98" fill="#ff0000"/>
<rect x="204.20" y="474.58" width="20.3" height="9.98" fill="#ffff00"/>
<rect x="204.20" y="485.67" width="40.5" height="9.98" fill="#ffff00"/>
<rect x="204.20" y="496.76" width="29.6" height="9.98" fill="#ffff00"/>
<rect x="204.20" y="507.85" width="13.3" height="9.98" fill="#ff9933"/>
<g stroke="#7a7a7a" stroke-width="0.7">
<line x1="199.00" y1="269.25" x2="200.40" y2="269.25"/>
<line x1="199.00" y1="280.34" x2="200.40" y2="280.34"/>
<line x1="199.00" y1="291.44" x2="200.40" y2="291.44"/>
<line x1="199.00" y1="302.53" x2="200.40" y2="302.53"/>
<line x1="199.00" y1="313.62" x2="200.40" y2="313.62"/>
<line x1="199.00" y1="324.71" x2="200.40" y2="324.71"/>
<line x1="199.00" y1="335.80" x2="200.40" y2="335.80"/>
<line x1="199.00" y1="346.89" x2="200.40" y2="346.89"/>
<line x1="199.00" y1="357.98" x2="200.40" y2="357.98"/>
<line x1="199.00" y1="369.07" x2="200.40" y2="369.07"/>
<line x1="199.00" y1="380.16" x2="200.40" y2="380.16"/>
<line x1="199.00" y1="391.25" x2="200.40" y2="391.25"/>
<line x1="199.00" y1="402.34" x2="200.40" y2="402.34"/>
<line x1="199.00" y1="413.43" x2="200.40" y2="413.43"/>
<line x1="199.00" y1="424.52" x2="200.40" y2="424.52"/>
<line x1="199.00" y1="435.61" x2="200.40" y2="435.61"/>
<line x1="199.00" y1="446.70" x2="200.40" y2="446.70"/>
<line x1="199.00" y1="457.79" x2="200.40" y2="457.79"/>
<line x1="199.00" y1="468.88" x2="200.40" y2="468.88"/>
<line x1="199.00" y1="479.97" x2="200.40" y2="479.97"/>
<line x1="199.00" y1="491.06" x2="200.40" y2="491.06"/>
<line x1="199.00" y1="502.16" x2="200.40" y2="502.16"/>
<line x1="199.00" y1="513.25" x2="200.40" y2="513.25"/>
</g>
<g font-size="7.5" fill="#444444" stroke="#444444" stroke-width="0.12" text-anchor="middle">
<text x="204.20" y="528.9">0.0</text>
<text x="217.76" y="528.9">0.1</text>
<text x="231.32" y="528.9">0.2</text>
<text x="244.88" y="528.9">0.3</text>
<text x="258.44" y="528.9">0.4</text>
<text x="272.00" y="528.9">0.5</text>
</g>
<rect x="284.0" y="262.2" width="74.65" height="257.30" fill="#ebebeb"/>
<g stroke="#ffffff" fill="none">
<line x1="286.85" y1="262.2" x2="286.85" y2="519.5" stroke-width="0.6"/>
<line x1="290.24" y1="262.2" x2="290.24" y2="519.5" stroke-width="0.25"/>
<line x1="293.63" y1="262.2" x2="293.63" y2="519.5" stroke-width="0.5"/>
<line x1="297.02" y1="262.2" x2="297.02" y2="519.5" stroke-width="0.25"/>
<line x1="300.41" y1="262.2" x2="300.41" y2="519.5" stroke-width="0.6"/>
<line x1="303.80" y1="262.2" x2="303.80" y2="519.5" stroke-width="0.25"/>
<line x1="307.19" y1="262.2" x2="307.19" y2="519.5" stroke-width="0.5"/>
<line x1="310.58" y1="262.2" x2="310.58" y2="519.5" stroke-width="0.25"/>
<line x1="313.97" y1="262.2" x2="313.97" y2="519.5" stroke-width="0.6"/>
<line x1="317.36" y1="262.2" x2="317.36" y2="519.5" stroke-width="0.25"/>
<line x1="320.75" y1="262.2" x2="320.75" y2="519.5" stroke-width="0.5"/>
<line x1="324.14" y1="262.2" x2="324.14" y2="519.5" stroke-width="0.25"/>
<line x1="327.53" y1="262.2" x2="327.53" y2="519.5" stroke-width="0.6"/>
<line x1="330.92" y1="262.2" x2="330.92" y2="519.5" stroke-width="0.25"/>
<line x1="334.31" y1="262.2" x2="334.31" y2="519.5" stroke-width="0.5"/>
<line x1="337.70" y1="262.2" x2="337.70" y2="519.5" stroke-width="0.25"/>
<line x1="341.09" y1="262.2" x2="341.09" y2="519.5" stroke-width="0.6"/>
<line x1="344.48" y1="262.2" x2="344.48" y2="519.5" stroke-width="0.25"/>
<line x1="347.87" y1="262.2" x2="347.87" y2="519.5" stroke-width="0.5"/>
<line x1="351.26" y1="262.2" x2="351.26" y2="519.5" stroke-width="0.25"/>
<line x1="354.65" y1="262.2" x2="354.65" y2="519.5" stroke-width="0.6"/>
<line x1="358.04" y1="262.2" x2="358.04" y2="519.5" stroke-width="0.25"/>
<line x1="284.0" y1="263.31" x2="358.65" y2="263.31" stroke-width="0.25"/>
<line x1="284.0" y1="268.85" x2="358.65" y2="268.85" stroke-width="0.6"/>
<line x1="284.0" y1="274.40" x2="358.65" y2="274.40" stroke-width="0.25"/>
<line x1="284.0" y1="279.94" x2="358.65" y2="279.94" stroke-width="0.6"/>
<line x1="284.0" y1="285.49" x2="358.65" y2="285.49" stroke-width="0.25"/>
<line x1="284.0" y1="291.04" x2="358.65" y2="291.04" stroke-width="0.6"/>
<line x1="284.0" y1="296.58" x2="358.65" y2="296.58" stroke-width="0.25"/>
<line x1="284.0" y1="302.13" x2="358.65" y2="302.13" stroke-width="0.6"/>
<line x1="284.0" y1="307.67" x2="358.65" y2="307.67" stroke-width="0.25"/>
<line x1="284.0" y1="313.22" x2="358.65" y2="313.22" stroke-width="0.6"/>
<line x1="284.0" y1="318.76" x2="358.65" y2="318.76" stroke-width="0.25"/>
<line x1="284.0" y1="324.31" x2="358.65" y2="324.31" stroke-width="0.6"/>
<line x1="284.0" y1="329.85" x2="358.65" y2="329.85" stroke-width="0.25"/>
<line x1="284.0" y1="335.40" x2="358.65" y2="335.40" stroke-width="0.6"/>
<line x1="284.0" y1="340.94" x2="358.65" y2="340.94" stroke-width="0.25"/>
<line x1="284.0" y1="346.49" x2="358.65" y2="346.49" stroke-width="0.6"/>
<line x1="284.0" y1="352.03" x2="358.65" y2="352.03" stroke-width="0.25"/>
<line x1="284.0" y1="357.58" x2="358.65" y2="357.58" stroke-width="0.6"/>
<line x1="284.0" y1="363.12" x2="358.65" y2="363.12" stroke-width="0.25"/>
<line x1="284.0" y1="368.67" x2="358.65" y2="368.67" stroke-width="0.6"/>
<line x1="284.0" y1="374.21" x2="358.65" y2="374.21" stroke-width="0.25"/>
<line x1="284.0" y1="379.76" x2="358.65" y2="379.76" stroke-width="0.6"/>
<line x1="284.0" y1="385.30" x2="358.65" y2="385.30" stroke-width="0.25"/>
<line x1="284.0" y1="390.85" x2="358.65" y2="390.85" stroke-width="0.6"/>
<line x1="284.0" y1="396.40" x2="358.65" y2="396.40" stroke-width="0.25"/>
<line x1="284.0" y1="401.94" x2="358.65" y2="401.94" stroke-width="0.6"/>
<line x1="284.0" y1="407.49" x2="358.65" y2="407.49" stroke-width="0.25"/>
<line x1="284.0" y1="413.03" x2="358.65" y2="413.03" stroke-width="0.6"/>
<line x1="284.0" y1="418.58" x2="358.65" y2="418.58" stroke-width="0.25"/>
<line x1="284.0" y1="424.12" x2="358.65" y2="424.12" stroke-width="0.6"/>
<line x1="284.0" y1="429.67" x2="358.65" y2="429.67" stroke-width="0.25"/>
<line x1="284.0" y1="435.21" x2="358.65" y2="435.21" stroke-width="0.6"/>
<line x1="284.0" y1="440.76" x2="358.65" y2="440.76" stroke-width="0.25"/>
<line x1="284.0" y1="446.30" x2="358.65" y2="446.30" stroke-width="0.6"/>
<line x1="284.0" y1="451.85" x2="358.65" y2="451.85" stroke-width="0.25"/>
<line x1="284.0" y1="457.39" x2="358.65" y2="457.39" stroke-width="0.6"/>
<line x1="284.0" y1="462.94" x2="358.65" y2="462.94" stroke-width="0.25"/>
<line x1="284.0" y1="468.48" x2="358.65" y2="468.48" stroke-width="0.6"/>
<line x1="284.0" y1="474.03" x2="358.65" y2="474.03" stroke-width="0.25"/>
<line x1="284.0" y1="479.57" x2="358.65" y2="479.57" stroke-width="0.6"/>
<line x1="284.0" y1="485.12" x2="358.65" y2="485.12" stroke-width="0.25"/>
<line x1="284.0" y1="490.66" x2="358.65" y2="490.66" stroke-width="0.6"/>
<line x1="284.0" y1="496.21" x2="358.65" y2="496.21" stroke-width="0.25"/>
<line x1="284.0" y1="501.76" x2="358.65" y2="501.76" stroke-width="0.6"/>
<line x1="284.0" y1="507.30" x2="358.65" y2="507.30" stroke-width="0.25"/>
<line x1="284.0" y1="512.85" x2="358.65" y2="512.85" stroke-width="0.6"/>
<line x1="284.0" y1="518.39" x2="358.65" y2="518.39" stroke-width="0.25"/>
</g>
<rect x="286.85" y="263.86" width="3.1" height="9.98" fill="#666666"/>
<rect x="286.85" y="274.95" width="5.0" height="9.98" fill="#666666"/>
<rect x="286.85" y="286.04" width="5.9" height="9.98" fill="#666666"/>
<rect x="286.85" y="297.14" width="13.1" height="9.98" fill="#666666"/>
<rect x="286.85" y="308.23" width="33.8" height="9.98" fill="#87cefa"/>
<rect x="286.85" y="319.32" width="65.5" height="9.98" fill="#87cefa"/>
<rect x="286.85" y="330.41" width="60.3" height="9.98" fill="#87cefa"/>
<rect x="286.85" y="341.50" width="2.0" height="9.98" fill="#ff0000"/>
<rect x="286.85" y="352.59" width="3.5" height="9.98" fill="#ff0000"/>
<rect x="286.85" y="385.86" width="23.7" height="9.98" fill="#ff9933"/>
<rect x="286.85" y="396.95" width="1.7" height="9.98" fill="#ff0000"/>
<rect x="286.85" y="419.13" width="4.0" height="9.98" fill="#ff0000"/>
<rect x="286.85" y="441.31" width="2.7" height="9.98" fill="#ff0000"/>
<rect x="286.85" y="452.40" width="1.2" height="9.98" fill="#ff0000"/>
<rect x="286.85" y="474.58" width="7.4" height="9.98" fill="#ffff00"/>
<rect x="286.85" y="507.85" width="13.8" height="9.98" fill="#ff9933"/>
<g stroke="#7a7a7a" stroke-width="0.7">
<line x1="282.00" y1="269.25" x2="283.40" y2="269.25"/>
<line x1="282.00" y1="280.34" x2="283.40" y2="280.34"/>
<line x1="282.00" y1="291.44" x2="283.40" y2="291.44"/>
<line x1="282.00" y1="302.53" x2="283.40" y2="302.53"/>
<line x1="282.00" y1="313.62" x2="283.40" y2="313.62"/>
<line x1="282.00" y1="324.71" x2="283.40" y2="324.71"/>
<line x1="282.00" y1="335.80" x2="283.40" y2="335.80"/>
<line x1="282.00" y1="346.89" x2="283.40" y2="346.89"/>
<line x1="282.00" y1="357.98" x2="283.40" y2="357.98"/>
<line x1="282.00" y1="369.07" x2="283.40" y2="369.07"/>
<line x1="282.00" y1="380.16" x2="283.40" y2="380.16"/>
<line x1="282.00" y1="391.25" x2="283.40" y2="391.25"/>
<line x1="282.00" y1="402.34" x2="283.40" y2="402.34"/>
<line x1="282.00" y1="413.43" x2="283.40" y2="413.43"/>
<line x1="282.00" y1="424.52" x2="283.40" y2="424.52"/>
<line x1="282.00" y1="435.61" x2="283.40" y2="435.61"/>
<line x1="282.00" y1="446.70" x2="283.40" y2="446.70"/>
<line x1="282.00" y1="457.79" x2="283.40" y2="457.79"/>
<line x1="282.00" y1="468.88" x2="283.40" y2="468.88"/>
<line x1="282.00" y1="479.97" x2="283.40" y2="479.97"/>
<line x1="282.00" y1="491.06" x2="283.40" y2="491.06"/>
<line x1="282.00" y1="502.16" x2="283.40" y2="502.16"/>
<line x1="282.00" y1="513.25" x2="283.40" y2="513.25"/>
</g>
<g font-size="7.5" fill="#444444" stroke="#444444" stroke-width="0.12" text-anchor="middle">
<text x="286.85" y="528.9">0.0</text>
<text x="300.41" y="528.9">0.1</text>
<text x="313.97" y="528.9">0.2</text>
<text x="327.53" y="528.9">0.3</text>
<text x="341.09" y="528.9">0.4</text>
<text x="354.65" y="528.9">0.5</text>
</g>
<rect x="367.2" y="262.2" width="74.40" height="257.30" fill="#ebebeb"/>
<g stroke="#ffffff" fill="none">
<line x1="370.00" y1="262.2" x2="370.00" y2="519.5" stroke-width="0.6"/>
<line x1="373.39" y1="262.2" x2="373.39" y2="519.5" stroke-width="0.25"/>
<line x1="376.78" y1="262.2" x2="376.78" y2="519.5" stroke-width="0.5"/>
<line x1="380.17" y1="262.2" x2="380.17" y2="519.5" stroke-width="0.25"/>
<line x1="383.56" y1="262.2" x2="383.56" y2="519.5" stroke-width="0.6"/>
<line x1="386.95" y1="262.2" x2="386.95" y2="519.5" stroke-width="0.25"/>
<line x1="390.34" y1="262.2" x2="390.34" y2="519.5" stroke-width="0.5"/>
<line x1="393.73" y1="262.2" x2="393.73" y2="519.5" stroke-width="0.25"/>
<line x1="397.12" y1="262.2" x2="397.12" y2="519.5" stroke-width="0.6"/>
<line x1="400.51" y1="262.2" x2="400.51" y2="519.5" stroke-width="0.25"/>
<line x1="403.90" y1="262.2" x2="403.90" y2="519.5" stroke-width="0.5"/>
<line x1="407.29" y1="262.2" x2="407.29" y2="519.5" stroke-width="0.25"/>
<line x1="410.68" y1="262.2" x2="410.68" y2="519.5" stroke-width="0.6"/>
<line x1="414.07" y1="262.2" x2="414.07" y2="519.5" stroke-width="0.25"/>
<line x1="417.46" y1="262.2" x2="417.46" y2="519.5" stroke-width="0.5"/>
<line x1="420.85" y1="262.2" x2="420.85" y2="519.5" stroke-width="0.25"/>
<line x1="424.24" y1="262.2" x2="424.24" y2="519.5" stroke-width="0.6"/>
<line x1="427.63" y1="262.2" x2="427.63" y2="519.5" stroke-width="0.25"/>
<line x1="431.02" y1="262.2" x2="431.02" y2="519.5" stroke-width="0.5"/>
<line x1="434.41" y1="262.2" x2="434.41" y2="519.5" stroke-width="0.25"/>
<line x1="437.80" y1="262.2" x2="437.80" y2="519.5" stroke-width="0.6"/>
<line x1="441.19" y1="262.2" x2="441.19" y2="519.5" stroke-width="0.25"/>
<line x1="367.2" y1="263.31" x2="441.6" y2="263.31" stroke-width="0.25"/>
<line x1="367.2" y1="268.85" x2="441.6" y2="268.85" stroke-width="0.6"/>
<line x1="367.2" y1="274.40" x2="441.6" y2="274.40" stroke-width="0.25"/>
<line x1="367.2" y1="279.94" x2="441.6" y2="279.94" stroke-width="0.6"/>
<line x1="367.2" y1="285.49" x2="441.6" y2="285.49" stroke-width="0.25"/>
<line x1="367.2" y1="291.04" x2="441.6" y2="291.04" stroke-width="0.6"/>
<line x1="367.2" y1="296.58" x2="441.6" y2="296.58" stroke-width="0.25"/>
<line x1="367.2" y1="302.13" x2="441.6" y2="302.13" stroke-width="0.6"/>
<line x1="367.2" y1="307.67" x2="441.6" y2="307.67" stroke-width="0.25"/>
<line x1="367.2" y1="313.22" x2="441.6" y2="313.22" stroke-width="0.6"/>
<line x1="367.2" y1="318.76" x2="441.6" y2="318.76" stroke-width="0.25"/>
<line x1="367.2" y1="324.31" x2="441.6" y2="324.31" stroke-width="0.6"/>
<line x1="367.2" y1="329.85" x2="441.6" y2="329.85" stroke-width="0.25"/>
<line x1="367.2" y1="335.40" x2="441.6" y2="335.40" stroke-width="0.6"/>
<line x1="367.2" y1="340.94" x2="441.6" y2="340.94" stroke-width="0.25"/>
<line x1="367.2" y1="346.49" x2="441.6" y2="346.49" stroke-width="0.6"/>
<line x1="367.2" y1="352.03" x2="441.6" y2="352.03" stroke-width="0.25"/>
<line x1="367.2" y1="357.58" x2="441.6" y2="357.58" stroke-width="0.6"/>
<line x1="367.2" y1="363.12" x2="441.6" y2="363.12" stroke-width="0.25"/>
<line x1="367.2" y1="368.67" x2="441.6" y2="368.67" stroke-width="0.6"/>
<line x1="367.2" y1="374.21" x2="441.6" y2="374.21" stroke-width="0.25"/>
<line x1="367.2" y1="379.76" x2="441.6" y2="379.76" stroke-width="0.6"/>
<line x1="367.2" y1="385.30" x2="441.6" y2="385.30" stroke-width="0.25"/>
<line x1="367.2" y1="390.85" x2="441.6" y2="390.85" stroke-width="0.6"/>
<line x1="367.2" y1="396.40" x2="441.6" y2="396.40" stroke-width="0.25"/>
<line x1="367.2" y1="401.94" x2="441.6" y2="401.94" stroke-width="0.6"/>
<line x1="367.2" y1="407.49" x2="441.6" y2="407.49" stroke-width="0.25"/>
<line x1="367.2" y1="413.03" x2="441.6" y2="413.03" stroke-width="0.6"/>
<line x1="367.2" y1="418.58" x2="441.6" y2="418.58" stroke-width="0.25"/>
<line x1="367.2" y1="424.12" x2="441.6" y2="424.12" stroke-width="0.6"/>
<line x1="367.2" y1="429.67" x2="441.6" y2="429.67" stroke-width="0.25"/>
<line x1="367.2" y1="435.21" x2="441.6" y2="435.21" stroke-width="0.6"/>
<line x1="367.2" y1="440.76" x2="441.6" y2="440.76" stroke-width="0.25"/>
<line x1="367.2" y1="446.30" x2="441.6" y2="446.30" stroke-width="0.6"/>
<line x1="367.2" y1="451.85" x2="441.6" y2="451.85" stroke-width="0.25"/>
<line x1="367.2" y1="457.39" x2="441.6" y2="457.39" stroke-width="0.6"/>
<line x1="367.2" y1="462.94" x2="441.6" y2="462.94" stroke-width="0.25"/>
<line x1="367.2" y1="468.48" x2="441.6" y2="468.48" stroke-width="0.6"/>
<line x1="367.2" y1="474.03" x2="441.6" y2="474.03" stroke-width="0.25"/>
<line x1="367.2" y1="479.57" x2="441.6" y2="479.57" stroke-width="0.6"/>
<line x1="367.2" y1="485.12" x2="441.6" y2="485.12" stroke-width="0.25"/>
<line x1="367.2" y1="490.66" x2="441.6" y2="490.66" stroke-width="0.6"/>
<line x1="367.2" y1="496.21" x2="441.6" y2="496.21" stroke-width="0.25"/>
<line x1="367.2" y1="501.76" x2="441.6" y2="501.76" stroke-width="0.6"/>
<line x1="367.2" y1="507.30" x2="441.6" y2="507.30" stroke-width="0.25"/>
<line x1="367.2" y1="512.85" x2="441.6" y2="512.85" stroke-width="0.6"/>
<line x1="367.2" y1="518.39" x2="441.6" y2="518.39" stroke-width="0.25"/>
</g>
<rect x="370.00" y="263.86" width="9.8" height="9.98" fill="#666666"/>
<rect x="370.00" y="274.95" width="31.1" height="9.98" fill="#666666"/>
<rect x="370.00" y="286.04" width="26.9" height="9.98" fill="#666666"/>
<rect x="370.00" y="297.14" width="46.9" height="9.98" fill="#666666"/>
<rect x="370.00" y="308.23" width="25.4" height="9.98" fill="#87cefa"/>
<rect x="370.00" y="319.32" width="3.5" height="9.98" fill="#87cefa"/>
<rect x="370.00" y="330.41" width="2.2" height="9.98" fill="#87cefa"/>
<rect x="370.00" y="352.59" width="16.1" height="9.98" fill="#ff0000"/>
<rect x="370.00" y="374.77" width="13.6" height="9.98" fill="#ff9933"/>
<rect x="370.00" y="385.86" width="4.9" height="9.98" fill="#ff9933"/>
<rect x="370.00" y="430.22" width="9.4" height="9.98" fill="#ff9933"/>
<rect x="370.00" y="441.31" width="1.5" height="9.98" fill="#ff0000"/>
<rect x="370.00" y="452.40" width="5.7" height="9.98" fill="#ff0000"/>
<rect x="370.00" y="463.49" width="0.5" height="9.98" fill="#ff0000" opacity="0.7"/>
<rect x="370.00" y="485.67" width="3.0" height="9.98" fill="#ffff00"/>
<rect x="370.00" y="507.85" width="16.3" height="9.98" fill="#ff9933"/>
<g stroke="#7a7a7a" stroke-width="0.7">
<line x1="365.20" y1="269.25" x2="366.60" y2="269.25"/>
<line x1="365.20" y1="280.34" x2="366.60" y2="280.34"/>
<line x1="365.20" y1="291.44" x2="366.60" y2="291.44"/>
<line x1="365.20" y1="302.53" x2="366.60" y2="302.53"/>
<line x1="365.20" y1="313.62" x2="366.60" y2="313.62"/>
<line x1="365.20" y1="324.71" x2="366.60" y2="324.71"/>
<line x1="365.20" y1="335.80" x2="366.60" y2="335.80"/>
<line x1="365.20" y1="346.89" x2="366.60" y2="346.89"/>
<line x1="365.20" y1="357.98" x2="366.60" y2="357.98"/>
<line x1="365.20" y1="369.07" x2="366.60" y2="369.07"/>
<line x1="365.20" y1="380.16" x2="366.60" y2="380.16"/>
<line x1="365.20" y1="391.25" x2="366.60" y2="391.25"/>
<line x1="365.20" y1="402.34" x2="366.60" y2="402.34"/>
<line x1="365.20" y1="413.43" x2="366.60" y2="413.43"/>
<line x1="365.20" y1="424.52" x2="366.60" y2="424.52"/>
<line x1="365.20" y1="435.61" x2="366.60" y2="435.61"/>
<line x1="365.20" y1="446.70" x2="366.60" y2="446.70"/>
<line x1="365.20" y1="457.79" x2="366.60" y2="457.79"/>
<line x1="365.20" y1="468.88" x2="366.60" y2="468.88"/>
<line x1="365.20" y1="479.97" x2="366.60" y2="479.97"/>
<line x1="365.20" y1="491.06" x2="366.60" y2="491.06"/>
<line x1="365.20" y1="502.16" x2="366.60" y2="502.16"/>
<line x1="365.20" y1="513.25" x2="366.60" y2="513.25"/>
</g>
<g font-size="7.5" fill="#444444" stroke="#444444" stroke-width="0.12" text-anchor="middle">
<text x="370.00" y="528.9">0.0</text>
<text x="383.56" y="528.9">0.1</text>
<text x="397.12" y="528.9">0.2</text>
<text x="410.68" y="528.9">0.3</text>
<text x="424.24" y="528.9">0.4</text>
<text x="437.80" y="528.9">0.5</text>
</g>
<g font-size="8.0" fill="#444444" stroke="#444444" stroke-width="0.12" text-anchor="end">
<text transform="translate(29.2,272.15) scale(0.91,1)">MPT</text>
<text transform="translate(29.2,283.24) scale(0.91,1)">SNGL</text>
<text transform="translate(29.2,294.34) scale(0.91,1)">TGTG</text>
<text transform="translate(29.2,305.43) scale(0.91,1)">LPLP</text>
<text transform="translate(29.2,316.52) scale(0.91,1)">BADA</text>
<text transform="translate(29.2,327.61) scale(0.91,1)">DADA</text>
<text transform="translate(29.2,338.70) scale(0.91,1)">BABA</text>
<text transform="translate(29.2,349.79) scale(0.91,1)">SYLL</text>
<text transform="translate(29.2,360.88) scale(0.91,1)">WORD</text>
<text transform="translate(29.2,371.97) scale(0.91,1)">PAUS</text>
<text transform="translate(29.2,383.06) scale(0.91,1)">INSP</text>
<text transform="translate(29.2,394.15) scale(0.91,1)">RATE</text>
<text transform="translate(29.2,405.24) scale(0.91,1)">NAT</text>
<text transform="translate(29.2,416.33) scale(0.91,1)">INT</text>
<text transform="translate(29.2,427.42) scale(0.91,1)">MOD</text>
<text transform="translate(29.2,438.51) scale(0.91,1)">FLU</text>
<text transform="translate(29.2,449.60) scale(0.91,1)">TEM</text>
<text transform="translate(29.2,460.69) scale(0.91,1)">RES</text>
<text transform="translate(29.2,471.78) scale(0.91,1)">ART</text>
<text transform="translate(29.2,482.87) scale(0.91,1)">VOS</text>
<text transform="translate(29.2,493.96) scale(0.91,1)">VOQ</text>
<text transform="translate(29.2,505.06) scale(0.91,1)">VPL</text>
<text transform="translate(29.2,516.15) scale(0.91,1)">RSP</text>
</g>
<g font-size="8.6" fill="#000000" stroke="#000000" stroke-width="0.25" text-anchor="middle">
<text x="74.4" y="306.1" textLength="36.7" lengthAdjust="spacingAndGlyphs">SPEECH1</text>
<text x="158.8" y="306.1" textLength="36.7" lengthAdjust="spacingAndGlyphs">SPEECH2</text>
<text x="243.4" y="306.1" textLength="36.7" lengthAdjust="spacingAndGlyphs">SPEECH3</text>
<text x="337" y="350.0" textLength="17.8" lengthAdjust="spacingAndGlyphs">DDK</text>
<text x="423.5" y="350.0" textLength="24.6" lengthAdjust="spacingAndGlyphs">NSOM</text>
</g>
<text x="185.3" y="543.2" font-size="11.7" fill="#111111" stroke="#111111" stroke-width="0.15" textLength="72.3" lengthAdjust="spacingAndGlyphs">EGA-loadings</text>
<rect x="382.4" y="429.1" width="63.3" height="74.3" fill="#f1f1f1" stroke="#3c3c3c" stroke-width="0.9"/>
<rect x="388" y="434.3" width="11.6" height="10.5" fill="#ff0000"/>
<text x="403.1" y="442.2" font-size="7.3" fill="#111111" stroke="#111111" stroke-width="0.12" textLength="29.0" lengthAdjust="spacingAndGlyphs">SPEECH1</text>
<rect x="388" y="447.7" width="11.6" height="10.5" fill="#ed7d31"/>
<text x="403.1" y="455.6" font-size="7.3" fill="#111111" stroke="#111111" stroke-width="0.12" textLength="29.0" lengthAdjust="spacingAndGlyphs">SPEECH2</text>
<rect x="388" y="461.1" width="11.6" height="10.5" fill="#ffff00"/>
<text x="403.1" y="469.0" font-size="7.3" fill="#111111" stroke="#111111" stroke-width="0.12" textLength="29.0" lengthAdjust="spacingAndGlyphs">SPEECH3</text>
<rect x="388" y="474.5" width="11.6" height="10.5" fill="#9dc3e6"/>
<text x="403.1" y="482.4" font-size="7.3" fill="#111111" stroke="#111111" stroke-width="0.12" textLength="13.2" lengthAdjust="spacingAndGlyphs">DDK</text>
<rect x="388" y="487.9" width="11.6" height="10.5" fill="#a6a6a6"/>
<text x="403.1" y="495.8" font-size="7.3" fill="#111111" stroke="#111111" stroke-width="0.12" textLength="39.0" lengthAdjust="spacingAndGlyphs">NSOM/MPT</text>
</svg>
</body></html>
